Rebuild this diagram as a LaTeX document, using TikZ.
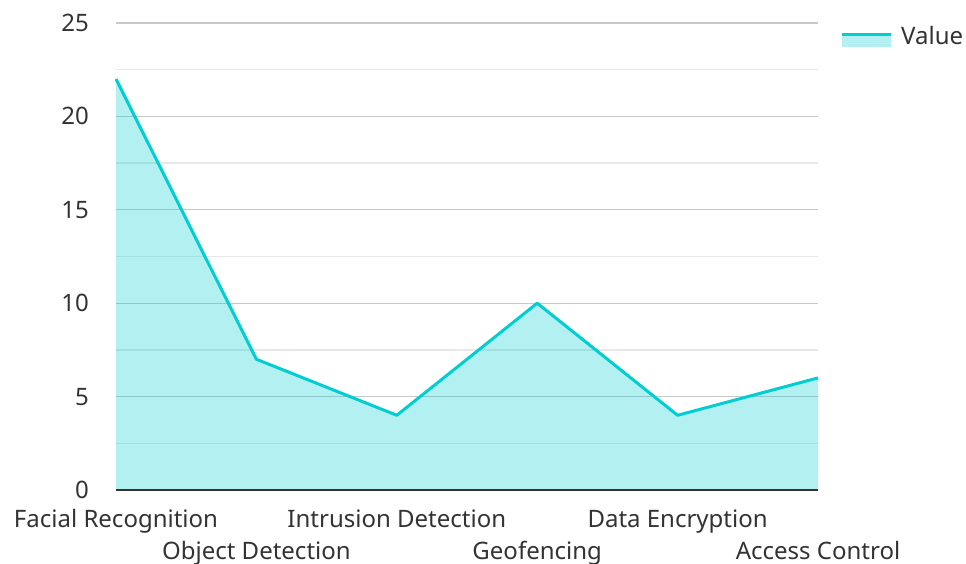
\documentclass[tikz,border=0pt]{standalone}
\usepackage{fontspec}
\setmainfont{Noto Sans}
\definecolor{lc}{RGB}{0,206,209}
\definecolor{fc}{RGB}{178,240,241}
\definecolor{majg}{RGB}{200,200,200}
\definecolor{ming}{RGB}{232,232,232}
\definecolor{axc}{RGB}{51,51,51}
\definecolor{txc}{RGB}{51,51,51}
\begin{document}
\begin{tikzpicture}[x=1pt,y=-1pt,
  lbl/.style={font=\fontsize{24}{28}\selectfont, text=txc, inner sep=0pt},
  majgrid/.style={draw=majg, line width=1.2pt},
  mingrid/.style={draw=ming, line width=1.2pt},
  dataline/.style={draw=lc, line width=3pt, line join=round},
  ]
\useasboundingbox (0,0) rectangle (966,564);
% grid
\foreach \v in {0,5,10,15,20,25} {
  \draw[majgrid] (116,{490-\v*18.68}) -- (818,{490-\v*18.68});
}
\foreach \v in {2.5,7.5,12.5,17.5,22.5} {
  \draw[mingrid] (116,{490-\v*18.68}) -- (818,{490-\v*18.68});
}
% y labels
\foreach \v in {0,5,10,15,20,25} {
  \node[lbl, anchor=east] (y\v) at (89,{490-\v*18.68}) {\v};
}
% data points
\coordinate (p1) at (116,{490-22*18.68});
\coordinate (p2) at (256.4,{490-7*18.68});
\coordinate (p3) at (396.8,{490-4*18.68});
\coordinate (p4) at (537.2,{490-10*18.68});
\coordinate (p5) at (677.6,{490-4*18.68});
\coordinate (p6) at (818,{490-6*18.68});
\coordinate (b1) at (116,490);
\coordinate (b6) at (818,490);
\fill[lc, fill opacity=0.3] (b1) -- (p1) -- (p2) -- (p3) -- (p4) -- (p5) -- (p6) -- (b6) -- cycle;
\draw[dataline] (p1) -- (p2) -- (p3) -- (p4) -- (p5) -- (p6);
% axis
\draw[axc, line width=2pt] (b1) -- (b6);
% x labels
\node[lbl, anchor=base] (x1) at (116,527) {Facial Recognition};
\node[lbl, anchor=base] (x2) at (256.4,559) {Object Detection};
\node[lbl, anchor=base] (x3) at (396.8,527) {Intrusion Detection};
\node[lbl, anchor=base] (x4) at (537.2,559) {Geofencing};
\node[lbl, anchor=base] (x5) at (677.6,527) {Data Encryption};
\node[lbl, anchor=base] (x6) at (818,559) {Access Control};
% legend
\fill[fc] (842,35) rectangle (891,47);
\draw[lc, line width=3pt] (842,35) -- (891,35);
\node[lbl, anchor=west] (leg) at (901,36) {Value};
\end{tikzpicture}
\end{document}
